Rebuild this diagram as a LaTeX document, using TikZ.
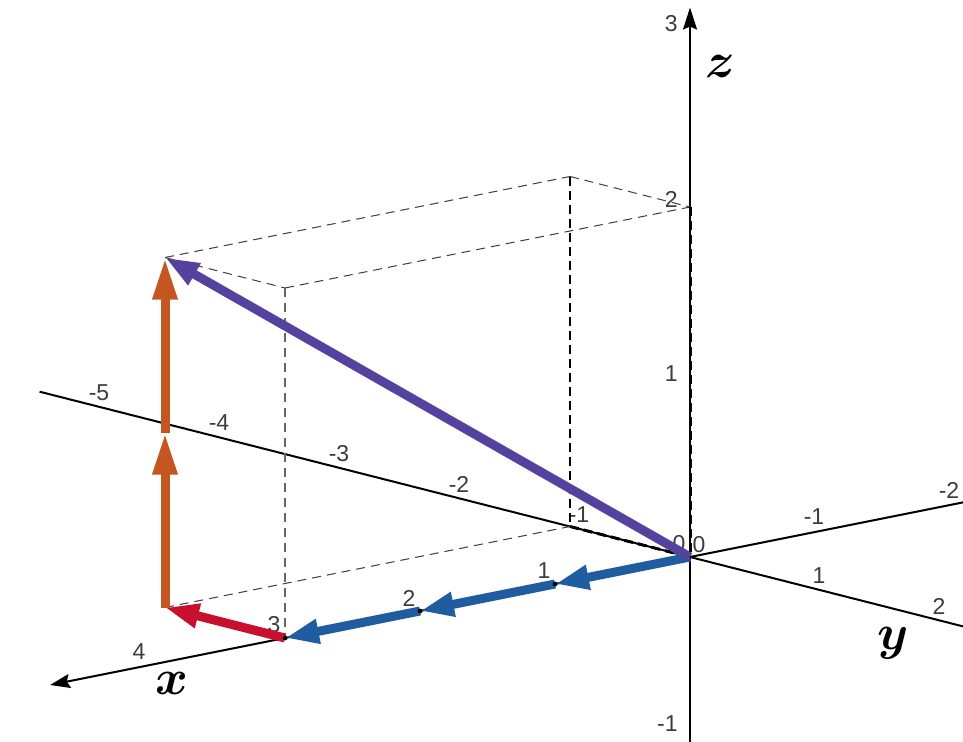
\documentclass[tikz,border=0pt]{standalone}
\usepackage{amsmath}
\usepackage{fontspec}
\usepackage{tikz}
\usetikzlibrary{arrows.meta}
\newfontfamily\ticksf{Liberation Sans}
\definecolor{vecblue}{RGB}{31,92,160}
\definecolor{vecred}{RGB}{200,16,46}
\definecolor{vecorange}{RGB}{196,86,34}
\definecolor{vecpurple}{RGB}{84,66,158}
\definecolor{ticktext}{RGB}{60,60,60}

\begin{document}
\begin{tikzpicture}[x=0.5pt, y=0.5pt,
        axis/.style = {line width=1pt, black},
        guide/.style = {black!75, line width=0.5pt, dash pattern=on 4.5pt off 3pt},
        heavyguide/.style = {black, line width=1.5pt, dash pattern=on 4.5pt off 2.5pt},
        vec/.style = {line width=4.5pt, -{Triangle[length=17pt, width=11.5pt]}},
        tick/.style = {font=\ticksf\fontsize{11.5}{13}\selectfont, text=ticktext, inner sep=0pt},
        axislabel/.style = {font=\fontsize{30}{36}\selectfont, inner sep=0pt}]
        \useasboundingbox (0,0) rectangle (963,741);

        \node[axislabel] (xlabel) at (172,58) {$\boldsymbol{x}$};
        \node[axislabel] (ylabel) at (893,98) {$\boldsymbol{y}$};
        \node[axislabel] (zlabel) at (720,675) {$\boldsymbol{z}$};

        \begin{scope}[shift={(345pt,92pt)}, x={(-67.5pt,-13.5pt)}, y={(60pt,-15.25pt)}, z={(0pt,87.5pt)}]
        \coordinate (O) at (0,0,0);
        \coordinate (X1) at (1,0,0);
        \coordinate (X2) at (2,0,0);
        \coordinate (A) at (3,0,0);
        \coordinate (B) at (3,-1,0);
        \coordinate (B1) at (3,-1,1);
        \coordinate (C) at (3,-1,2);
        \coordinate (D) at (0,-1,0);
        \coordinate (E) at (0,-1,2);
        \coordinate (F) at (0,0,2);
        \coordinate (G) at (3,0,2);

        \coordinate (xend) at (4.74,0,0);
        \coordinate (xstart) at (-2.03,0,0);
        \coordinate (ystart) at (0,-5.42,0);
        \coordinate (yend) at (0,2.3,0);
        \coordinate (zstart) at (0,0,-1.1);
        \coordinate (zend) at (0,0,3.14);

        \draw[axis, -{Stealth[length=10pt, width=7pt, inset=1.5pt]}] (xstart) -- (xend);
        \draw[axis] (ystart) -- (yend);
        \draw[axis, -{Stealth[length=11pt, width=7pt, inset=1.5pt]}] (zstart) -- (zend);

        \foreach \i in {-2,...,4}
            \node[tick, xshift=-5.5pt, yshift=6.5pt] (xt\i) at (\i,0,0) {\i};
        \foreach \i in {-5,...,2}
            \node[tick, xshift=4.5pt, yshift=6pt] (yt\i) at (0,\i,0) {\i};
        \foreach \i in {-1,1,2,3}
            \node[tick, anchor=east, xshift=-6pt, yshift=4pt] (zt\i) at (0,0,\i) {\i};

        \draw[guide] (C) -- (E);
        \draw[guide] (C) -- (G);
        \draw[guide] (G) -- (F);
        \draw[guide] (E) -- (F);
        \draw[guide] (B) -- (D);
        \draw[guide, black!60, line width=0.8pt] (G) -- (A);
        \draw[heavyguide, line width=1.2pt] (E) -- (D);
        \draw[heavyguide] (D) -- (O);
        \draw[heavyguide] (F) -- (O);

        \draw[vec, vecblue] (O) -- (X1);
        \draw[vec, vecblue] (X1) -- (X2);
        \draw[vec, vecblue] (X2) -- (A);
        \draw[vec, vecred] (A) -- (B);
        \draw[vec, vecorange, -{Triangle[length=21pt, width=11.5pt]}] (B) -- (B1);
        \draw[vec, vecorange, -{Triangle[length=21pt, width=11.5pt]}] (B1) -- (C);
        \draw[vec, vecpurple] (O) -- (C);

        \fill (X1) circle (1.2pt);
        \fill (X2) circle (1.2pt);
        \fill (A) circle (1.2pt);
        \end{scope}
\end{tikzpicture}
\end{document}
